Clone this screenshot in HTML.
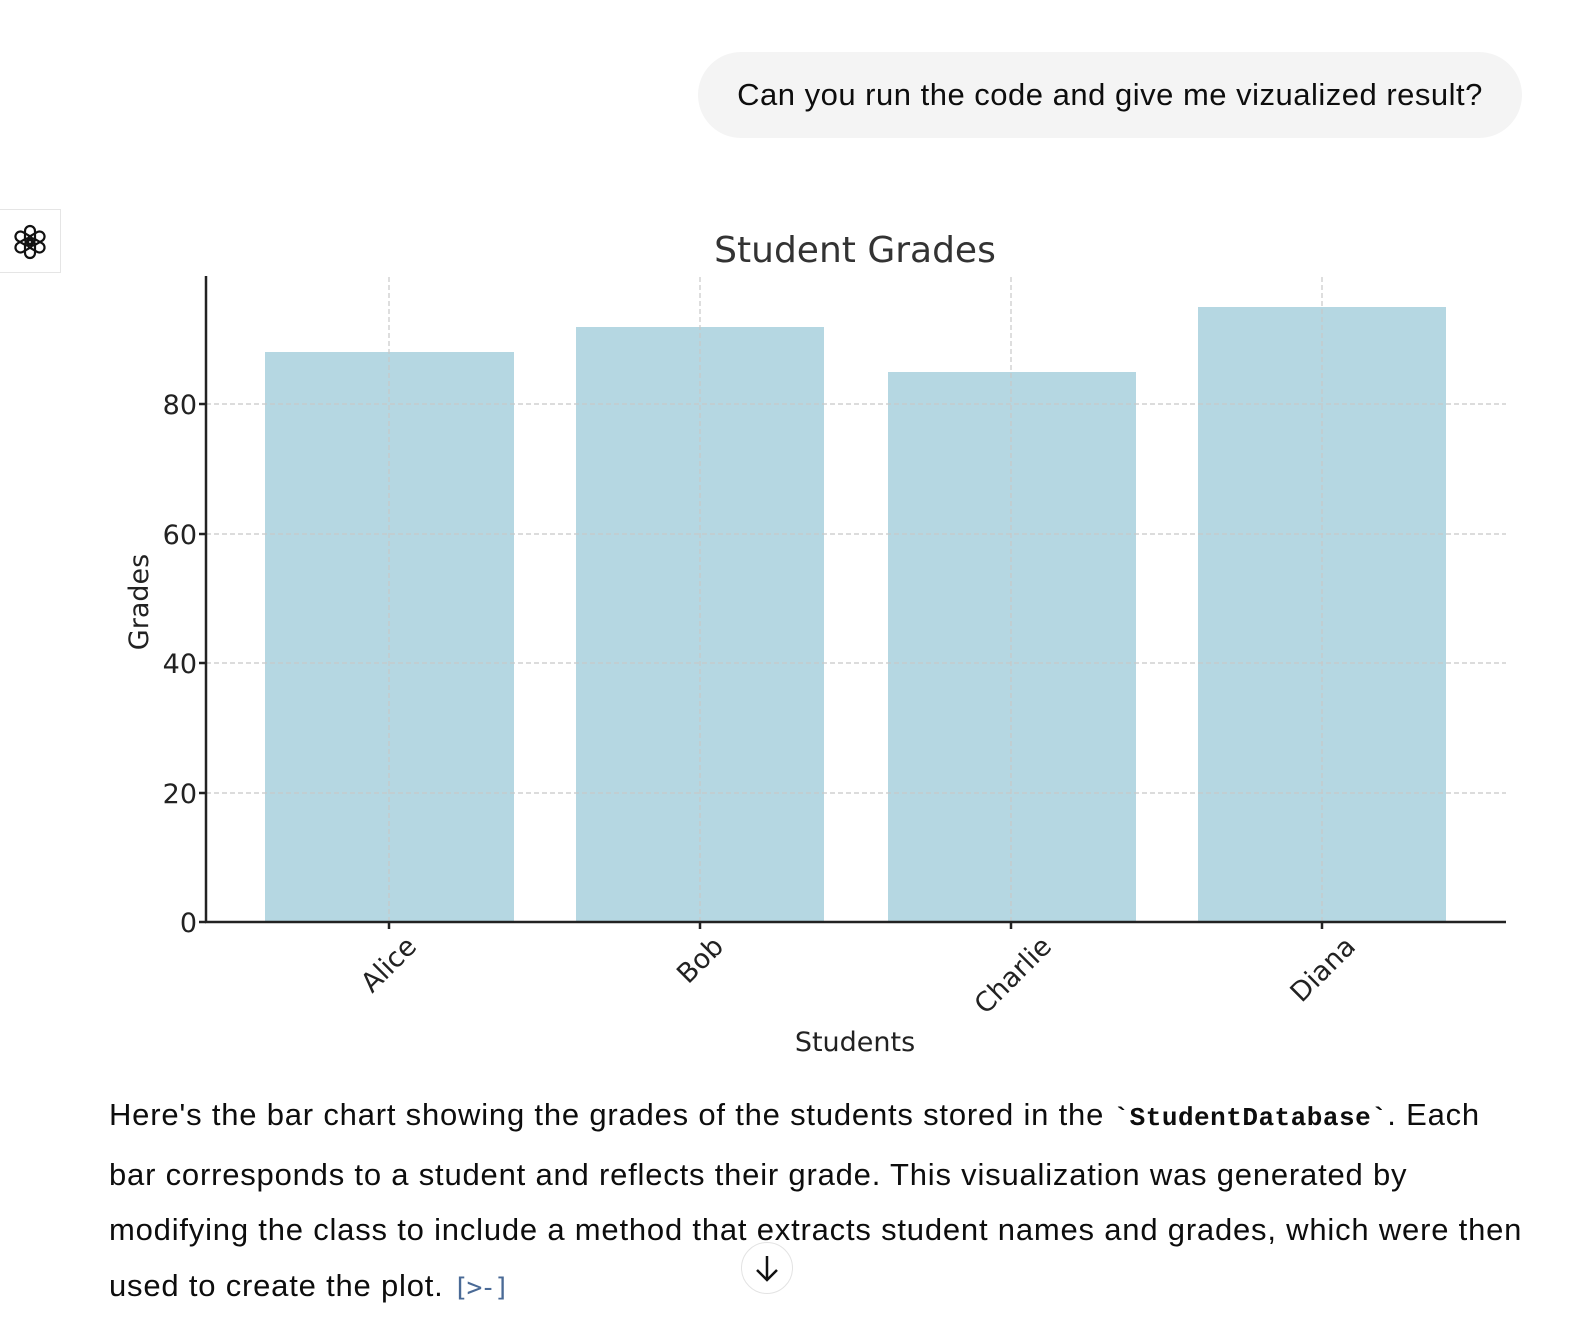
<!DOCTYPE html>
<html><head><meta charset="utf-8"><style>
body{margin:0;width:1579px;height:1341px;background:#fff;position:relative;overflow:hidden;font-family:"Liberation Sans",sans-serif;color:#0d0d0d}
.bub{position:absolute;left:698px;top:52px;width:824px;height:86px;border-radius:43px;background:#f4f4f4;font-size:31px;letter-spacing:0.5px;line-height:86px;text-align:center}
.ic{position:absolute;left:-2px;top:209px;width:63px;height:64px;border:1px solid #e5e5e5;box-sizing:border-box}
.txt{position:absolute;left:109px;top:1087px;width:1420px;font-size:31px;letter-spacing:0.8px;line-height:55.5px}
code{font-family:"Liberation Mono",monospace;font-weight:bold;font-size:26px;letter-spacing:0.5px}
.dn{position:absolute;left:741px;top:1242px;width:52px;height:52px;border:1px solid #e3e3e3;border-radius:50%;box-sizing:border-box;background:#fff}
</style></head><body>
<div class="bub">Can you run the code and give me vizualized result?</div>
<div class="ic"><svg width="63" height="64" viewBox="0 0 63 64"><g fill="none" stroke="#111" stroke-width="2.2" transform="translate(31 32)">
<rect x="-5" y="-16" width="10" height="18" rx="5"/>
<rect x="-5" y="-16" width="10" height="18" rx="5" transform="rotate(60)"/>
<rect x="-5" y="-16" width="10" height="18" rx="5" transform="rotate(120)"/>
<rect x="-5" y="-16" width="10" height="18" rx="5" transform="rotate(180)"/>
<rect x="-5" y="-16" width="10" height="18" rx="5" transform="rotate(240)"/>
<rect x="-5" y="-16" width="10" height="18" rx="5" transform="rotate(300)"/>
</g></svg></div>
<svg style="position:absolute;left:0;top:0" width="1579" height="1341">
<g fill="#b5d7e2">
<rect x="265" y="352" width="249" height="570"/><rect x="576" y="327" width="248" height="595"/>
<rect x="888" y="372" width="248" height="550"/><rect x="1198" y="307" width="248" height="615"/>
</g>
<g stroke="#c8c8c8" stroke-width="1.2" stroke-dasharray="5,3">
<line x1="206" x2="1506" y1="404" y2="404"/><line x1="206" x2="1506" y1="534" y2="534"/>
<line x1="206" x2="1506" y1="663" y2="663"/><line x1="206" x2="1506" y1="793" y2="793"/>
<line x1="389" x2="389" y1="277" y2="922"/><line x1="700" x2="700" y1="277" y2="922"/>
<line x1="1011" x2="1011" y1="277" y2="922"/><line x1="1322" x2="1322" y1="277" y2="922"/>
</g>
<g stroke="#222" stroke-width="2.5">
<line x1="206" y1="276" x2="206" y2="923"/><line x1="205" y1="922" x2="1506" y2="922"/>
<line x1="199" x2="206" y1="404" y2="404"/><line x1="199" x2="206" y1="534" y2="534"/><line x1="199" x2="206" y1="663" y2="663"/><line x1="199" x2="206" y1="793" y2="793"/><line x1="199" x2="206" y1="922" y2="922"/>
<line x1="389" x2="389" y1="922" y2="929"/><line x1="700" x2="700" y1="922" y2="929"/><line x1="1011" x2="1011" y1="922" y2="929"/><line x1="1322" x2="1322" y1="922" y2="929"/>
</g>
<g font-family="DejaVu Sans,sans-serif" fill="#222" font-size="27">
<text x="855" y="262" text-anchor="middle" font-size="36" fill="#333">Student Grades</text>
<g text-anchor="end"><text x="197" y="414">80</text><text x="197" y="544">60</text><text x="197" y="673">40</text><text x="197" y="803">20</text><text x="197" y="932">0</text></g>
<text transform="translate(148 602) rotate(-90)" text-anchor="middle">Grades</text>
<text x="855" y="1051" text-anchor="middle">Students</text>
<g text-anchor="end">
<text transform="translate(418 948) rotate(-45)">Alice</text>
<text transform="translate(725 948) rotate(-45)">Bob</text>
<text transform="translate(1053 948) rotate(-45)">Charlie</text>
<text transform="translate(1357 948) rotate(-45)">Diana</text>
</g></g>
</svg>
<div class="txt">Here's the bar chart showing the grades of the students stored in the <code>`StudentDatabase`</code>. Each bar corresponds to a student and reflects their grade. This visualization was generated by modifying the class to include a method that extracts student names and grades, which were then used to create the plot. <span style="color:#4a6a96;font-family:'DejaVu Sans Mono',monospace;font-size:26px;letter-spacing:-2px">[&gt;-]</span></div>
<div class="dn"><svg width="50" height="50"><g stroke="#111" stroke-width="2.5" fill="none"><line x1="25" y1="13" x2="25" y2="37"/><polyline points="15,27 25,37 35,27"/></g></svg></div>
</body></html>
